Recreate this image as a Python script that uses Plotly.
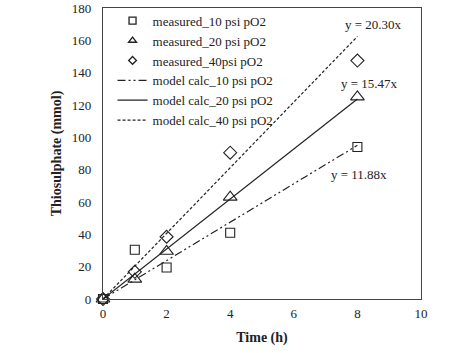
import plotly.graph_objects as go

time_h = [0, 1, 2, 4, 8]
meas_10 = [0, 30.5, 19.5, 41, 94]
meas_20 = [0, 12.3, 29.5, 63, 125]
meas_40 = [0, 16.8, 38.5, 90.5, 147.5]

model_x = [0, 8]
slope_10 = 11.88
slope_20 = 15.47
slope_40 = 20.30

FONT = "Times New Roman, Liberation Serif, serif"
INK = "#222222"
DASH_10 = "8px,3px,2px,3px,2px,3px"
DASH_40 = "3px,2px"

series = [
    ("measured_10 psi pO2", meas_10, "square-open", 9, 7),
    ("measured_20 psi pO2", meas_20, "triangle-up-open", 12, 7),
    ("measured_40psi pO2", meas_40, "diamond-open", 10, 6),
]
models = [
    ("model calc_10 psi pO2", slope_10, DASH_10),
    ("model calc_20 psi pO2", slope_20, "solid"),
    ("model calc_40 psi pO2", slope_40, DASH_40),
]

fig = go.Figure()
for name, ys, sym, sz, lsz in series:
    fig.add_trace(go.Scatter(x=time_h, y=ys, mode="markers", name=name, showlegend=False,
                             legendgroup=name,
                             marker=dict(symbol=sym, size=sz, color=INK, line=dict(width=1.1)),
                             cliponaxis=False))
    # legend key with smaller symbol
    fig.add_trace(go.Scatter(x=[None], y=[None], mode="markers", name=name, legendgroup=name,
                             marker=dict(symbol=sym, size=lsz, color=INK, line=dict(width=1.3))))
for name, k, dash in models:
    fig.add_trace(go.Scatter(x=model_x, y=[k * v for v in model_x], mode="lines", name=name,
                             line=dict(color=INK, width=1.2, dash=dash)))

annots = [
    dict(x=8.5, y=169.5, text="y = 20.30x"),
    dict(x=8.37, y=133, text="y = 15.47x"),
    dict(x=8.05, y=77, text="y = 11.88x"),
]
for a in annots:
    fig.add_annotation(x=a["x"], y=a["y"], text=a["text"], showarrow=False,
                       font=dict(family=FONT, size=13, color=INK), xanchor="center")

axis_common = dict(showgrid=False, zeroline=False, showline=True, linecolor="#444444",
                   linewidth=1.3, mirror=True, ticks="", automargin=False,
                   tickfont=dict(family=FONT, size=13, color=INK))
fig.update_xaxes(range=[0, 10], dtick=2, **axis_common, ticklabelstandoff=2,
                 title=dict(text="<b>Time (h)</b>", font=dict(family=FONT, size=14, color=INK), standoff=12))
fig.update_yaxes(range=[0, 180], dtick=20, **axis_common, ticklabelstandoff=8,
                 title=dict(text="<b>Thiosulphate (mmol)</b>", font=dict(family=FONT, size=14, color=INK), standoff=6))

fig.update_layout(
    width=474, height=353,
    margin=dict(l=103, r=53, t=8, b=54, autoexpand=False),
    paper_bgcolor="white", plot_bgcolor="white",
    font=dict(family=FONT, color=INK),
    legend=dict(x=0.03, y=1.008, xanchor="left", yanchor="top",
                font=dict(family=FONT, size=13, color=INK),
                bgcolor="rgba(0,0,0,0)", tracegroupgap=0, itemwidth=30),
)

fig.write_html("out.html")
